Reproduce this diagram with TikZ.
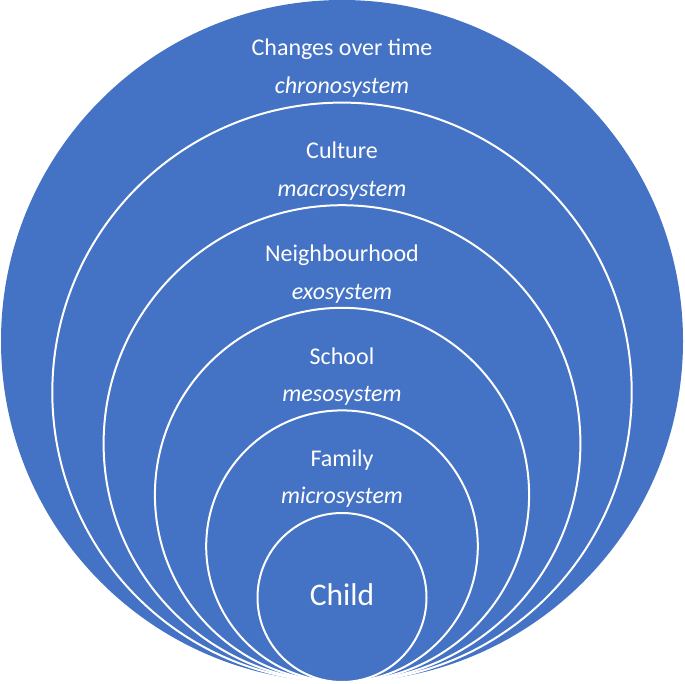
\documentclass[tikz,border=0pt]{standalone}
\usepackage{fontspec}
\setmainfont{Carlito}
\definecolor{ringblue}{HTML}{4472C4}
\begin{document}
\begin{tikzpicture}[x=1pt,y=-1pt,
  ring/.style={circle,inner sep=0pt,outer sep=0pt,fill=ringblue,draw=white,line width=2pt,minimum size=#1},
  outerring/.style={circle,inner sep=0pt,outer sep=0pt,fill=ringblue,minimum size=#1},
  lbl/.style={anchor=base,text=white,inner sep=0pt,font=\fontsize{24}{28}\selectfont},
  sys/.style={anchor=base,text=white,inner sep=0pt,font=\fontsize{24}{28}\selectfont\itshape},
  childlbl/.style={anchor=base,text=white,inner sep=0pt,font=\fontsize{31.5}{36}\selectfont}]
\useasboundingbox (0,0) rectangle (685,683);
\node[outerring=682pt] (r0) at (342,341) {};
\node[ring=579.4pt] (r1) at (342,392.3) {};
\node[ring=476.8pt] (r2) at (342,443.6) {};
\node[ring=374.2pt] (r3) at (342,494.9) {};
\node[ring=271.6pt] (r4) at (342,546.2) {};
\node[ring=169pt] (r5) at (342,597.5) {};
\node[lbl] (t0) at (342,55.5) {Changes over time};
\node[sys] (s0) at (342,93) {chronosystem};
\node[lbl] (t1) at (342,158.5) {Culture};
\node[sys] (s1) at (342,196) {macrosystem};
\node[lbl] (t2) at (342,261.5) {Neighbourhood};
\node[sys] (s2) at (342,299) {exosystem};
\node[lbl] (t3) at (342,364) {School};
\node[sys] (s3) at (342,401.5) {mesosystem};
\node[lbl] (t4) at (342,466) {Family};
\node[sys] (s4) at (342,503.5) {microsystem};
\node[childlbl] (t5) at (342,605.5) {Child};
\end{tikzpicture}
\end{document}
